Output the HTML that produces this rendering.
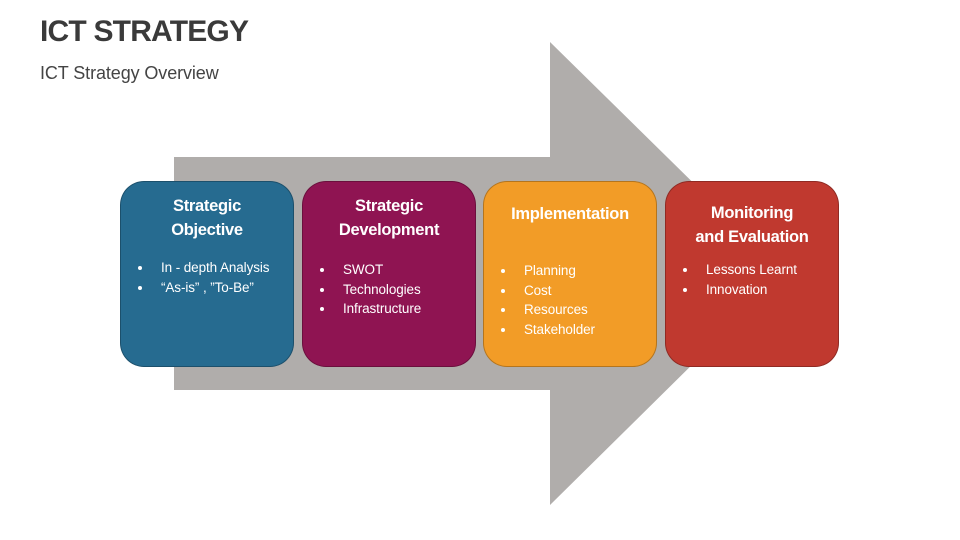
<!DOCTYPE html>
<html><head><meta charset="utf-8"><style>
body{margin:0;width:960px;height:540px;background:#fff;position:relative;overflow:hidden;font-family:"Liberation Sans",sans-serif}
.t{position:absolute;left:40px;top:15px;font-size:30px;font-weight:bold;color:#3a3a3a;letter-spacing:-0.8px}
.s{position:absolute;left:40px;top:63px;font-size:18px;color:#444;letter-spacing:-0.1px}
.b{position:absolute;top:181px;width:174px;height:186px;border-radius:24px;color:#fff;box-sizing:border-box;border:1px solid rgba(0,0,0,0.25)}
.b h{display:block;text-align:center;font-weight:bold;font-size:16.5px;line-height:24px;position:absolute;left:0;right:0;letter-spacing:-0.3px}
.b ul{position:absolute;left:0;margin:0;padding-left:32px;font-size:13.5px;line-height:19.5px;letter-spacing:-0.1px}
.b li{padding-left:8px}
</style></head><body>
<div class="t">ICT STRATEGY</div>
<div class="s">ICT Strategy Overview</div>
<svg style="position:absolute;left:0;top:0" width="960" height="540"><polygon points="174,157 550,157 550,42 785,273 550,505 550,390 174,390" fill="#b0adab"/></svg>
<div class="b" style="left:120px;background:#266b90"><h style="top:12px">Strategic<br>Objective</h><ul style="top:76px"><li>In - depth Analysis</li><li>“As-is” , ”To-Be”</li></ul></div>
<div class="b" style="left:302px;background:#8f1452"><h style="top:12px">Strategic<br>Development</h><ul style="top:78px"><li>SWOT</li><li>Technologies</li><li>Infrastructure</li></ul></div>
<div class="b" style="left:483px;background:#f29c27"><h style="top:20px">Implementation</h><ul style="top:79px"><li>Planning</li><li>Cost</li><li>Resources</li><li>Stakeholder</li></ul></div>
<div class="b" style="left:665px;background:#c0392f"><h style="top:19px">Monitoring<br>and Evaluation</h><ul style="top:78px"><li>Lessons Learnt</li><li>Innovation</li></ul></div>
</body></html>
